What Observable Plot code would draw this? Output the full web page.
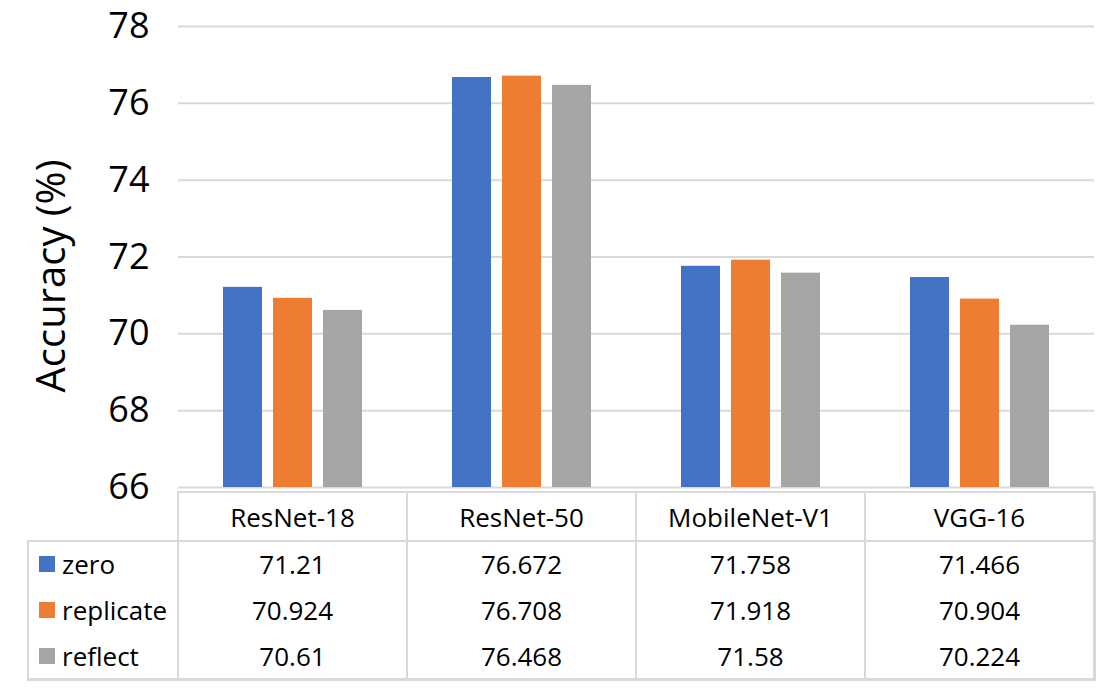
<!DOCTYPE html>
<html>
<head>
<meta charset="utf-8">
<script src="https://cdn.jsdelivr.net/npm/d3@7"></script>
<script src="https://cdn.jsdelivr.net/npm/@observablehq/plot@0.6"></script>
<style>
  html, body { margin: 0; padding: 0; background: #fff; }
  #wrap { position: relative; width: 1119px; height: 700px; font-family: "Open Sans", sans-serif; color: #000; overflow: hidden; }
  #wrap svg { position: absolute; left: 0; top: 0; }
  .ylabel { position: absolute; left: 49px; top: 276px; transform: translate(-50%, -50%) rotate(-90deg); white-space: nowrap; font-size: 40px; }
  .line { position: absolute; background: #d9d9d9; }
  .cell { position: absolute; display: flex; align-items: center; justify-content: center; font-size: 26px; white-space: nowrap; }
  .lcell { position: absolute; display: flex; align-items: center; font-size: 26px; white-space: nowrap; }
  .sw { width: 16px; height: 16px; margin-right: 7px; }
</style>
</head>
<body>
<div id="wrap"></div>
<script>
const models = ["ResNet-18", "ResNet-50", "MobileNet-V1", "VGG-16"];
const series = ["zero", "replicate", "reflect"];
const zeroVals = [71.21, 76.672, 71.758, 71.466];
const replicateVals = [70.924, 76.708, 71.918, 70.904];
const reflectVals = [70.61, 76.468, 71.58, 70.224];
const yTicks = [66, 68, 70, 72, 74, 76, 78];
const colors = ["#4472C4", "#ED7D31", "#A5A5A5"];
const yLabel = "Accuracy (%)";

const valueSets = [zeroVals, replicateVals, reflectVals];
const data = models.flatMap((m, i) => series.map((s, j) => ({model: m, series: s, value: valueSets[j][i]})));
const yMin = yTicks[0];

const chart = Plot.plot({
  width: 1119,
  height: 492,
  marginLeft: 177,
  marginRight: 25,
  marginTop: 26,
  marginBottom: 5,
  style: {fontFamily: "Open Sans, sans-serif", fontSize: "36px", color: "#000", background: "transparent", overflow: "visible"},
  fx: {domain: models, padding: 0, axis: null},
  x: {domain: series, paddingInner: 0.216, paddingOuter: 0.855, axis: null},
  y: {domain: [yTicks[0], yTicks[yTicks.length - 1]], ticks: yTicks, tickSize: 0, tickPadding: 29, label: null, tickFormat: d => String(d)},
  color: {domain: series, range: colors},
  marks: [
    Plot.ruleY(yTicks, {stroke: "#d9d9d9", strokeWidth: 2}),
    Plot.barY(data, {fx: "model", x: "series", y1: yMin, y2: "value", fill: "series"})
  ]
});

const wrap = document.getElementById("wrap");
wrap.appendChild(chart);

const lab = document.createElement("div");
lab.className = "ylabel";
lab.textContent = yLabel;
wrap.appendChild(lab);

// table under the chart, aligned to the fx scale
const fx = chart.scale("fx");
const bw = fx.bandwidth;
const colLeft = m => (fx.apply ? fx.apply(m) : 177 + models.indexOf(m) * bw);
const tLeft = 28, tRight = colLeft(models[models.length - 1]) + bw;
const hTop = 491, hBot = 540, rowH = 46, tBot = hBot + rowH * series.length;

function line(x, y, w, h) {
  const d = document.createElement("div");
  d.className = "line";
  Object.assign(d.style, {left: x + "px", top: y + "px", width: w + "px", height: h + "px"});
  wrap.appendChild(d);
}
const firstCol = colLeft(models[0]);
line(firstCol - 1, hTop, tRight - firstCol + 2, 2);
line(tLeft - 1, hBot, tRight - tLeft + 2, 2);
line(tLeft - 1, tBot, tRight - tLeft + 3, 3);
line(tLeft - 1, hBot, 2, tBot - hBot);
models.forEach(m => line(colLeft(m) - 1, hTop, 2, tBot - hTop));
line(tRight - 1, hTop, 3, tBot - hTop + 3);

function cell(text, x, y, w, h) {
  const d = document.createElement("div");
  d.className = "cell";
  Object.assign(d.style, {left: x + "px", top: y + "px", width: w + "px", height: h + "px"});
  d.textContent = text;
  wrap.appendChild(d);
}
models.forEach(m => cell(m, colLeft(m), hTop + 1, bw, hBot - hTop));
series.forEach((s, j) => {
  const top = hBot + 1 + j * rowH;
  const d = document.createElement("div");
  d.className = "lcell";
  Object.assign(d.style, {left: "39px", top: top + "px", height: rowH + "px"});
  const sw = document.createElement("span");
  sw.className = "sw";
  sw.style.background = colors[j];
  d.appendChild(sw);
  d.appendChild(document.createTextNode(s));
  wrap.appendChild(d);
  models.forEach((m, i) => cell(String(valueSets[j][i]), colLeft(m), top, bw, rowH));
});
</script>
</body>
</html>
